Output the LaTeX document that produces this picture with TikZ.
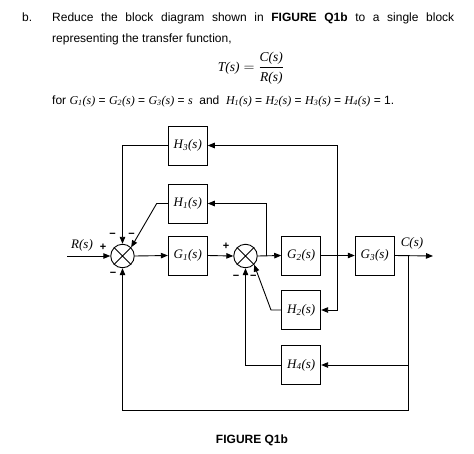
\documentclass[tikz,border=0pt]{standalone}
\usepackage{fontspec}
\setmainfont{Liberation Sans}
\newfontfamily\tms{Liberation Serif}
\usetikzlibrary{arrows.meta}
\newcommand\lbl[2]{{\tms\itshape #1\textsubscript{#2}(s)}}
\newcommand\fs[1]{\hbox{\tms\itshape #1(s)}}
\begin{document}
\begin{tikzpicture}[x=1pt,y=-1pt,
  txt/.style={anchor=base west,inner sep=0pt,font=\fontsize{12}{14}\selectfont},
  blk/.style={draw,line width=0.9pt,minimum width=39pt,minimum height=39pt,inner sep=0pt,font=\fontsize{13}{15}\selectfont},
  sumj/.style={draw,circle,line width=0.9pt,minimum size=23.5pt,inner sep=0pt},
  wire/.style={line width=0.9pt},
  arr/.style={wire,-{Triangle[length=7pt,width=5.5pt]}},
  sgn/.style={font=\fontsize{11}{12}\selectfont\bfseries,inner sep=0pt},
  sig/.style={inner sep=0pt,font=\fontsize{13}{15}\selectfont\tms\itshape}]
\useasboundingbox (0,0) rectangle (474,453);
% question text
\node[txt] (b) at (22,21) {b.};
\node[txt] (l1) at (52,21) {\makebox[402pt][s]{Reduce the block diagram shown in \textbf{FIGURE Q1b} to a single block}};
\node[txt] (l2) at (52,42) {representing the transfer function,};
\node[inner sep=0pt,font=\fontsize{13.5}{16}\selectfont] (eq) at (251,68) {$\displaystyle \fs{T}=\frac{\fs{C}}{\fs{R}}$};
\node[txt] (l3) at (52,104) {for \lbl G1 = \lbl G2 = \lbl G3 = {\tms\itshape s}\ \ and\ \ \lbl H1 = \lbl H2 = \lbl H3 = \lbl H4 = 1.};
% blocks
\node[sumj] (s1) at (122.5,256) {};
\node[blk] (g1) at (187.8,255.5) {\lbl G1};
\node[sumj] (s2) at (245.5,256) {};
\node[blk] (g2) at (301.2,255.5) {\lbl G2};
\node[blk] (g3) at (374.7,255.5) {\lbl G3};
\node[blk] (h3) at (187.8,145.5) {\lbl H3};
\node[blk] (h1) at (187.8,203.5) {\lbl H1};
\node[blk] (h2) at (301.2,310) {\lbl H2};
\node[blk] (h4) at (301.2,365) {\lbl H4};
\draw[wire] (s1.north east) -- (s1.south west) (s1.north west) -- (s1.south east);
\draw[wire] (s2.north east) -- (s2.south west) (s2.north west) -- (s2.south east);
% coordinates
\coordinate (rin) at (67,256);
\coordinate (cout) at (433,256);
\coordinate (t1) at (266,256);
\coordinate (t2) at (337.5,256);
\coordinate (t3) at (408,256);
\coordinate (bk1) at (156.7,203.5);
\coordinate (bk2) at (271,310);
\coordinate (bot) at (408,410);
% forward path
\draw[arr] (rin) -- (s1.west);
\draw[arr] (s1.east) -- (g1.west);
\draw[arr] (g1.east) -- (s2.west);
\draw[arr] (s2.east) -- (g2.west);
\draw[arr] (g2.east) -- (g3.west);
\draw[arr] (g3.east) -- (cout);
% feedback loops
\draw[arr] (t1) |- (h1.east);
\draw[arr] (h1.west) -- (bk1) -- (s1.north east);
\draw[arr] (t2) |- (h3.east);
\draw[arr] (h3.west) -| (s1.north);
\draw[arr] (t2) |- (h2.east);
\draw[arr] (h2.west) -- (bk2) -- (s2.south east);
\draw[arr] (t3) |- (h4.east);
\draw[arr] (h4.west) -| (s2.south);
\draw[arr] (t3) -- (bot) -| (s1.south);
% signs
\node[sgn] (p1) at (103,247) {+};
\node[sgn] (m1) at (112.7,235) {−};
\node[sgn] (m2) at (131.7,235) {−};
\node[sgn] (m3) at (113,274) {−};
\node[sgn] (p2) at (226,246) {+};
\node[sgn] (m4) at (236,277.5) {−};
\node[sgn] (m5) at (253.3,277.5) {−};
% signals
\node[sig] (R) at (82,245) {R(s)};
\node[sig] (C) at (412,243) {C(s)};
\node[inner sep=0pt,font=\fontsize{12}{14}\selectfont\bfseries] (fig) at (252,440) {FIGURE Q1b};
\end{tikzpicture}
\end{document}
